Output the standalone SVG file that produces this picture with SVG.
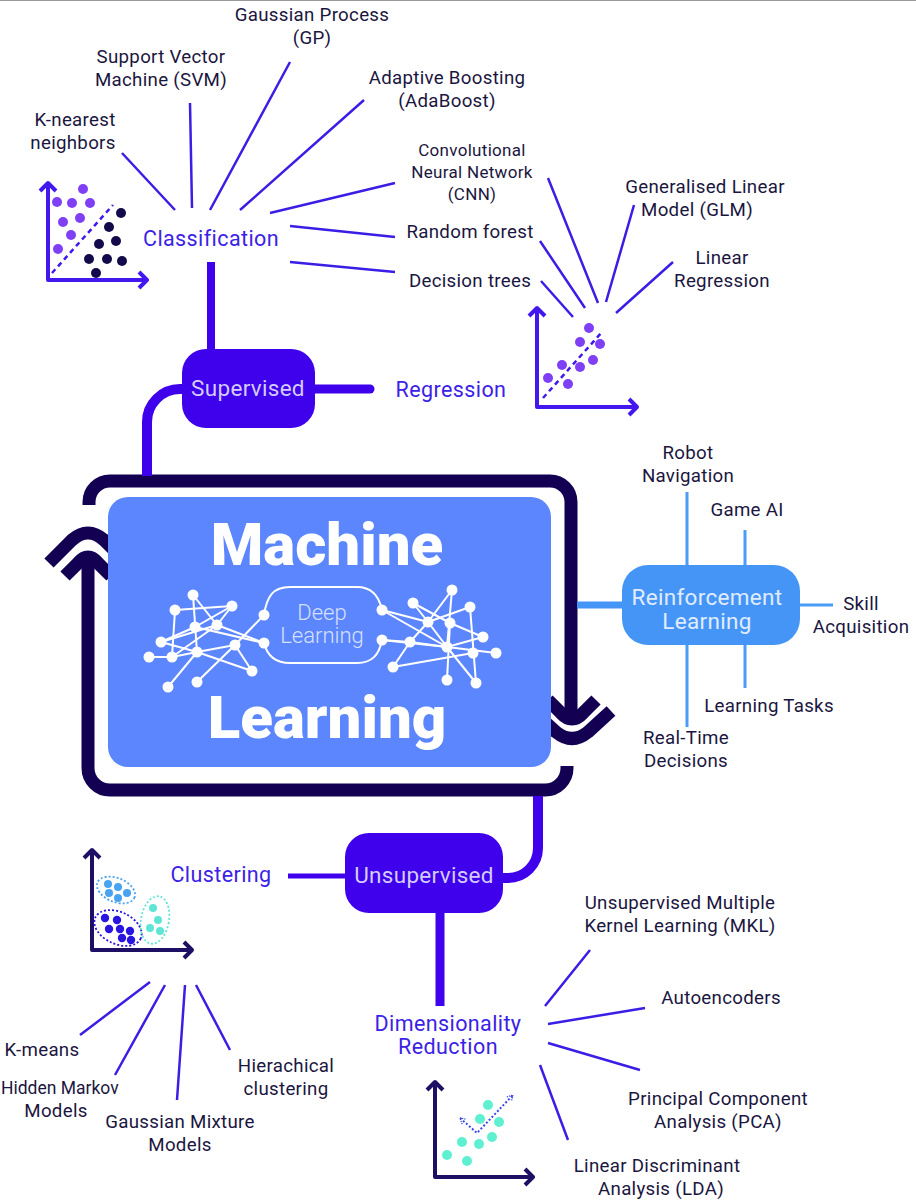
<svg xmlns="http://www.w3.org/2000/svg" width="916" height="1204" viewBox="0 0 916 1204">
<style>
.lbl{font-family:Roboto,"Liberation Sans",sans-serif;font-size:18.7px;fill:#1b1640;text-anchor:middle;letter-spacing:0.3px}
.sm{font-size:17px}
.key{font-family:Roboto,"Liberation Sans",sans-serif;font-size:21.5px;fill:#3b22e6;text-anchor:middle;letter-spacing:0.4px}
.ntx{font-family:Roboto,"Liberation Sans",sans-serif;font-size:22.5px;fill:#d4ccff;text-anchor:middle;letter-spacing:0.3px}
.thin{stroke:#3a1ee6;stroke-width:2.5;fill:none}
.rl{stroke:#4a9cf6;stroke-width:3;fill:none}
.frame{stroke:#130052;stroke-width:13;fill:none}
.vio{stroke:#3f00eb;fill:none}
.net line{stroke:#fff;stroke-width:2}
.net circle{fill:#fff}
.ax1{stroke:#4218ef;stroke-width:4;fill:none;stroke-linejoin:round}
.ax2{stroke:#1d0f63;stroke-width:4;fill:none;stroke-linejoin:round}
.pd{fill:#7f3ff5}
.dd{fill:#120a4a}
</style>
<defs>
<marker id="dar" viewBox="0 0 10 10" refX="8" refY="5" markerWidth="8" markerHeight="8" orient="auto-start-reverse" markerUnits="userSpaceOnUse">
<path d="M1 1 L8 5 L1 9" fill="none" stroke="#3a48e6" stroke-width="1.6" stroke-dasharray="1.5 1.2"/>
</marker>
</defs>
<rect x="0" y="0" width="916" height="1204" fill="#fff"/>
<line x1="0" y1="0.5" x2="916" y2="0.5" stroke="#9a9a9a" stroke-width="1"/>

<g id="connectors">
<path class="frame" d="M 89 505 V 502 A 21 21 0 0 1 110 481 H 550 A 21 21 0 0 1 571 502 V 716"/>
<path class="frame" stroke-width="12" d="M 548 700 L 561 713 Q 572 725 583 713 L 596 700"/>
<path class="frame" d="M 533 711 L 556 732 Q 572 745 588 732 L 611 711"/>
<path class="frame" d="M 88 560 V 768 A 22 22 0 0 0 110 790 H 545 A 22 22 0 0 0 567 768 V 766"/>
<path class="frame" stroke-width="12" d="M 65 576 L 78 563 Q 88 551 98 563 L 111 576"/>
<path class="frame" d="M 49 563 L 72 540 Q 88 526 104 540 L 127 563"/>
<path class="vio" stroke-width="10" d="M 186 389 H 180 A 33 33 0 0 0 147 422 V 476"/>
<path class="vio" stroke-width="8" d="M 211 262 V 352"/>
<path class="vio" stroke-width="9" stroke-linecap="round" d="M 312 389 H 370"/>
<path class="vio" stroke-width="10" d="M 538 796 V 848 A 30 30 0 0 1 508 878 H 498"/>
<path class="vio" stroke-width="5" d="M 288 876 H 350"/>
<path class="vio" stroke-width="9" d="M 440 910 V 1006"/>
<path stroke="#4595f7" stroke-width="7" fill="none" d="M 577 605 H 625"/>
<path class="rl" d="M 687 492 V 566 M 745 530 V 566 M 687 645 V 727 M 745 645 V 688 M 799 605 H 833"/>
<path class="thin" d="M 122 153 L 175 210 M 190 103 L 192 208 M 290 62 L 210 210 M 364 100 L 240 210 M 395 183 L 270 213 M 290 226 L 395 237 M 290 262 L 395 272"/>
<path class="thin" d="M 541 281 L 573 317 M 540 241 L 585 308 M 548 178 L 598 303 M 634 205 L 606 302 M 673 262 L 616 313"/>
<path class="thin" d="M 80 1035 L 150 982 M 115 1075 L 165 985 M 177 1100 L 185 985 M 230 1050 L 196 985"/>
<path class="thin" d="M 590 950 L 545 1006 M 645 1008 L 548 1024 M 640 1070 L 548 1043 M 568 1140 L 540 1065"/>
</g>

<g id="ml-core">
<rect x="108" y="497" width="443" height="270" rx="20" fill="#5c86fe"/>
<text x="327" y="565" font-family="Roboto,'Liberation Sans',sans-serif" font-weight="900" font-size="60" fill="#fff" text-anchor="middle">Machine</text>
<text x="327" y="738" font-family="Roboto,'Liberation Sans',sans-serif" font-weight="900" font-size="60" fill="#fff" text-anchor="middle">Learning</text>
<g class="net">
<line x1="193" y1="595" x2="197" y2="652"/><line x1="193" y1="595" x2="217" y2="625"/>
<line x1="175" y1="610" x2="232" y2="606"/><line x1="175" y1="610" x2="172" y2="657"/>
<line x1="232" y1="606" x2="195" y2="627"/><line x1="232" y1="606" x2="217" y2="625"/>
<line x1="195" y1="627" x2="161" y2="642"/><line x1="195" y1="627" x2="264" y2="643"/>
<line x1="161" y1="642" x2="197" y2="652"/><line x1="161" y1="642" x2="217" y2="625"/>
<line x1="149" y1="657" x2="172" y2="657"/><line x1="172" y1="657" x2="197" y2="652"/>
<line x1="197" y1="652" x2="235" y2="645"/><line x1="197" y1="652" x2="168" y2="687"/>
<line x1="197" y1="652" x2="252" y2="671"/><line x1="235" y1="645" x2="264" y2="615"/>
<line x1="235" y1="645" x2="197" y2="682"/><line x1="217" y1="625" x2="264" y2="643"/>
<line x1="172" y1="657" x2="217" y2="625"/><line x1="235" y1="645" x2="252" y2="671"/>
<circle cx="193" cy="595" r="5.5"/><circle cx="175" cy="610" r="5.5"/><circle cx="232" cy="606" r="5.5"/>
<circle cx="195" cy="627" r="5.5"/><circle cx="217" cy="625" r="5.5"/><circle cx="161" cy="642" r="5.5"/>
<circle cx="172" cy="657" r="5.5"/><circle cx="149" cy="657" r="5.5"/><circle cx="197" cy="652" r="5.5"/>
<circle cx="235" cy="645" r="5.5"/><circle cx="264" cy="615" r="5.5"/><circle cx="264" cy="643" r="5.5"/>
<circle cx="252" cy="671" r="5.5"/><circle cx="197" cy="682" r="5.5"/><circle cx="168" cy="687" r="5.5"/>
<line x1="382" y1="610" x2="428" y2="622"/><line x1="382" y1="640" x2="410" y2="642"/>
<line x1="382" y1="640" x2="447" y2="647"/><line x1="382" y1="610" x2="447" y2="647"/>
<line x1="413" y1="603" x2="428" y2="622"/><line x1="413" y1="603" x2="450" y2="623"/>
<line x1="452" y1="590" x2="428" y2="622"/><line x1="452" y1="590" x2="447" y2="647"/>
<line x1="470" y1="607" x2="428" y2="622"/><line x1="470" y1="607" x2="476" y2="683"/>
<line x1="428" y1="622" x2="410" y2="642"/><line x1="428" y1="622" x2="447" y2="647"/>
<line x1="450" y1="623" x2="447" y2="680"/><line x1="410" y1="642" x2="447" y2="647"/>
<line x1="410" y1="642" x2="393" y2="667"/><line x1="447" y1="647" x2="483" y2="637"/>
<line x1="447" y1="647" x2="496" y2="653"/><line x1="447" y1="647" x2="476" y2="683"/>
<line x1="393" y1="667" x2="473" y2="653"/><line x1="450" y1="623" x2="483" y2="637"/>
<circle cx="382" cy="610" r="5.5"/><circle cx="382" cy="640" r="5.5"/><circle cx="413" cy="603" r="5.5"/>
<circle cx="452" cy="590" r="5.5"/><circle cx="470" cy="607" r="5.5"/><circle cx="428" cy="622" r="5.5"/>
<circle cx="450" cy="623" r="5.5"/><circle cx="410" cy="642" r="5.5"/><circle cx="447" cy="647" r="5.5"/>
<circle cx="483" cy="637" r="5.5"/><circle cx="473" cy="653" r="5.5"/><circle cx="496" cy="653" r="5.5"/>
<circle cx="393" cy="667" r="5.5"/><circle cx="447" cy="680" r="5.5"/><circle cx="476" cy="683" r="5.5"/>
</g>
<path d="M 264 615 C 267 596 273 587 290 587 H 357 C 372 587 379 596 382 610 M 382 640 C 379 655 372 663 357 663 H 290 C 274 663 267 655 264 643" fill="none" stroke="#fff" stroke-width="2"/>
<text x="322" y="620" font-family="Roboto,'Liberation Sans',sans-serif" font-weight="300" font-size="22" fill="#d6e0ff" text-anchor="middle">Deep</text>
<text x="322" y="643" font-family="Roboto,'Liberation Sans',sans-serif" font-weight="300" font-size="22" fill="#d6e0ff" text-anchor="middle">Learning</text>
</g>

<g id="supervised">
<rect x="182" y="349" width="133" height="79" rx="24" fill="#3f00eb"/>
<text class="ntx" x="248" y="396">Supervised</text>
</g>
<g id="unsupervised">
<rect x="345" y="833" width="158" height="80" rx="24" fill="#3f00eb"/>
<text class="ntx" x="424" y="883">Unsupervised</text>
</g>
<g id="reinforcement">
<rect x="622" y="565" width="178" height="80" rx="26" fill="#4595f7"/>
<text class="ntx" x="707" y="605" style="fill:#e0ecff">Reinforcement</text>
<text class="ntx" x="707" y="629" style="fill:#e0ecff">Learning</text>
</g>

<g id="classification">
<text class="key" x="211" y="246">Classification</text>
<path class="ax1" d="M 48 183 V 280 H 147 M 40 191 L 48 183 L 56 191 M 139 272 L 147 280 L 139 288"/>
<line x1="52" y1="273" x2="113" y2="205" stroke="#4218ef" stroke-width="2.5" stroke-dasharray="5 4"/>
<circle class="pd" cx="83" cy="189" r="5"/><circle class="pd" cx="57" cy="202" r="5"/><circle class="pd" cx="72" cy="203" r="5"/>
<circle class="pd" cx="90" cy="203" r="5"/><circle class="pd" cx="63" cy="222" r="5"/><circle class="pd" cx="80" cy="218" r="5"/>
<circle class="pd" cx="71" cy="235" r="5"/><circle class="pd" cx="58" cy="249" r="5"/>
<circle class="dd" cx="121" cy="213" r="5"/><circle class="dd" cx="109" cy="227" r="5"/><circle class="dd" cx="116" cy="241" r="5"/>
<circle class="dd" cx="99" cy="244" r="5"/><circle class="dd" cx="89" cy="259" r="5"/><circle class="dd" cx="107" cy="259" r="5"/>
<circle class="dd" cx="122" cy="261" r="5"/><circle class="dd" cx="96" cy="273" r="5"/>
</g>
<g id="classification-methods">
<text class="lbl" x="75" y="126">K-nearest</text><text class="lbl" x="73" y="149">neighbors</text>
<text class="lbl" x="161" y="63">Support Vector</text><text class="lbl" x="161" y="86">Machine (SVM)</text>
<text class="lbl" x="312" y="21">Gaussian Process</text><text class="lbl" x="312" y="44">(GP)</text>
<text class="lbl" x="447" y="84">Adaptive Boosting</text><text class="lbl" x="447" y="107">(AdaBoost)</text>
<text class="lbl sm" x="472" y="156">Convolutional</text><text class="lbl sm" x="472" y="178">Neural Network</text><text class="lbl sm" x="472" y="200">(CNN)</text>
<text class="lbl" x="470" y="238">Random forest</text>
<text class="lbl" x="470" y="287">Decision trees</text>
</g>

<g id="regression">
<text class="key" x="451" y="397">Regression</text>
<path class="ax1" d="M 537 308 V 407 H 637 M 529 316 L 537 308 L 545 316 M 629 399 L 637 407 L 629 415"/>
<line x1="543" y1="398" x2="602" y2="332" stroke="#4218ef" stroke-width="2.5" stroke-dasharray="5 4"/>
<circle class="pd" cx="589" cy="328" r="5"/><circle class="pd" cx="580" cy="342" r="5"/><circle class="pd" cx="600" cy="344" r="5"/>
<circle class="pd" cx="562" cy="365" r="5"/><circle class="pd" cx="580" cy="367" r="5"/><circle class="pd" cx="593" cy="360" r="5"/>
<circle class="pd" cx="548" cy="378" r="5"/><circle class="pd" cx="568" cy="384" r="5"/>
</g>
<g id="regression-methods">
<text class="lbl" x="705" y="193">Generalised Linear</text><text class="lbl" x="697" y="216">Model (GLM)</text>
<text class="lbl" x="722" y="264">Linear</text><text class="lbl" x="722" y="287">Regression</text>
</g>

<g id="rl-tasks">
<text class="lbl" x="688" y="459">Robot</text><text class="lbl" x="688" y="482">Navigation</text>
<text class="lbl" x="747" y="516">Game AI</text>
<text class="lbl" x="861" y="610">Skill</text><text class="lbl" x="861" y="633">Acquisition</text>
<text class="lbl" x="769" y="712">Learning Tasks</text>
<text class="lbl" x="686" y="744">Real-Time</text><text class="lbl" x="686" y="767">Decisions</text>
</g>

<g id="clustering">
<text class="key" x="221" y="882">Clustering</text>
<path class="ax2" d="M 92 850 V 950 H 192 M 84 858 L 92 850 L 100 858 M 184 942 L 192 950 L 184 958"/>
<ellipse cx="116" cy="890" rx="20" ry="12" transform="rotate(22 116 890)" fill="none" stroke="#4aa3f0" stroke-width="1.8" stroke-dasharray="2 2"/>
<ellipse cx="118" cy="928" rx="25" ry="16" transform="rotate(25 118 928)" fill="none" stroke="#2a14e0" stroke-width="1.8" stroke-dasharray="2 2"/>
<ellipse cx="155" cy="920" rx="14" ry="24" transform="rotate(10 155 920)" fill="none" stroke="#5fe5d5" stroke-width="1.8" stroke-dasharray="2 2"/>
<g fill="#4aa3f0"><circle cx="108" cy="884" r="4"/><circle cx="118" cy="887" r="4"/><circle cx="127" cy="893" r="4"/><circle cx="109" cy="893" r="4"/><circle cx="118" cy="898" r="4"/></g>
<g fill="#2a14e0"><circle cx="105" cy="918" r="4.2"/><circle cx="117" cy="920" r="4.2"/><circle cx="109" cy="929" r="4.2"/><circle cx="120" cy="929" r="4.2"/><circle cx="130" cy="931" r="4.2"/><circle cx="122" cy="938" r="4.2"/><circle cx="131" cy="940" r="4.2"/></g>
<g fill="#5fe5d5"><circle cx="153" cy="908" r="4"/><circle cx="158" cy="920" r="4"/><circle cx="150" cy="928" r="4"/><circle cx="160" cy="931" r="4"/></g>
</g>
<g id="clustering-methods">
<text class="lbl" x="42" y="1056">K-means</text>
<text class="lbl" x="1" y="1094" style="text-anchor:start;font-size:17.5px;letter-spacing:0">Hidden Markov</text><text class="lbl" x="56" y="1117">Models</text>
<text class="lbl" x="180" y="1128">Gaussian Mixture</text><text class="lbl" x="180" y="1151">Models</text>
<text class="lbl" x="286" y="1072">Hierachical</text><text class="lbl" x="286" y="1095">clustering</text>
</g>

<g id="dimensionality-reduction">
<text class="key" x="448" y="1031">Dimensionality</text>
<text class="key" x="448" y="1054">Reduction</text>
<path class="ax2" d="M 435 1082 V 1177 H 533 M 427 1090 L 435 1082 L 443 1090 M 525 1169 L 533 1177 L 525 1185"/>
<g fill="#5ef0d0"><circle cx="488" cy="1105" r="5"/><circle cx="480" cy="1119" r="5"/><circle cx="499" cy="1122" r="5"/><circle cx="462" cy="1142" r="5"/><circle cx="479" cy="1144" r="5"/><circle cx="492" cy="1137" r="5"/><circle cx="447" cy="1155" r="5"/><circle cx="467" cy="1161" r="5"/></g>
<path d="M 460 1118 L 477 1133 L 513 1095" fill="none" stroke="#3a48e6" stroke-width="2" stroke-dasharray="2 2" marker-start="url(#dar)" marker-end="url(#dar)"/>
</g>
<g id="dimensionality-methods">
<text class="lbl" x="680" y="909">Unsupervised Multiple</text><text class="lbl" x="680" y="932">Kernel Learning (MKL)</text>
<text class="lbl" x="721" y="1004">Autoencoders</text>
<text class="lbl" x="718" y="1105">Principal Component</text><text class="lbl" x="718" y="1128">Analysis (PCA)</text>
<text class="lbl" x="657" y="1172">Linear Discriminant</text><text class="lbl" x="661" y="1195">Analysis (LDA)</text>
</g>
</svg>
